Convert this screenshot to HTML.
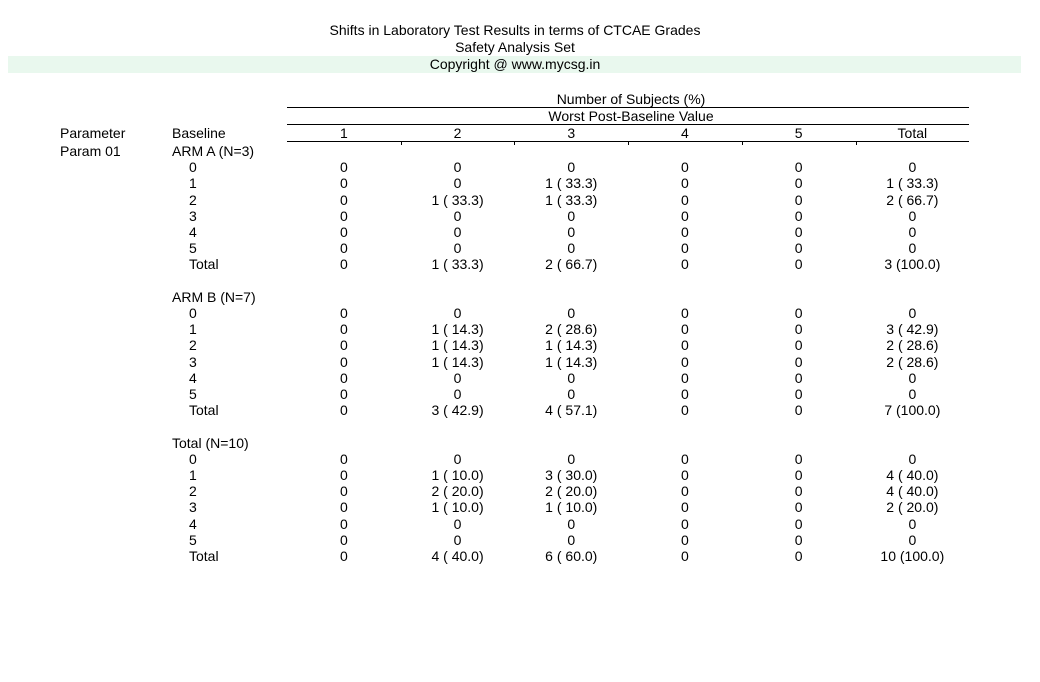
<!DOCTYPE html>
<html><head><meta charset="utf-8"><style>
body{margin:0;width:1040px;height:682px;background:#fff;position:relative;overflow:hidden;font-family:"Liberation Sans",Arial,sans-serif;font-size:14px;color:#000}
.t{position:absolute;white-space:pre;line-height:16px}
.c{transform:translateX(-50%)}
.hl{position:absolute;height:1px;background:#000}
.tk{position:absolute;width:1px;height:4px;background:#000}
</style></head><body>
<div class="t c" style="left:515px;top:22px">Shifts in Laboratory Test Results in terms of CTCAE Grades</div>
<div class="t c" style="left:515px;top:39px">Safety Analysis Set</div>
<div style="position:absolute;left:8px;top:56px;width:1013px;height:17px;background:#e9f8ee"></div>
<div class="t c" style="left:515px;top:56px">Copyright @ www.mycsg.in</div>
<div class="t c" style="left:631px;top:91px">Number of Subjects (%)</div>
<div class="hl" style="left:287px;top:107px;width:682px"></div>
<div class="t c" style="left:631px;top:108px">Worst Post-Baseline Value</div>
<div class="hl" style="left:287px;top:124px;width:682px"></div>
<div class="t" style="left:60px;top:125px">Parameter</div>
<div class="t" style="left:172px;top:125px">Baseline</div>
<div class="hl" style="left:287px;top:141px;width:682px"></div>
<div id="body"></div>
<script>
const colHeaders=["1","2","3","4","5","Total"];
const groups=["ARM A (N=3)","ARM B (N=7)","Total (N=10)"];
const rowLabels=["0","1","2","3","4","5","Total"];
const armA=[["0","0","0","0","0","0"],["0","0","1 ( 33.3)","0","0","1 ( 33.3)"],["0","1 ( 33.3)","1 ( 33.3)","0","0","2 ( 66.7)"],["0","0","0","0","0","0"],["0","0","0","0","0","0"],["0","0","0","0","0","0"],["0","1 ( 33.3)","2 ( 66.7)","0","0","3 (100.0)"]];
const armB=[["0","0","0","0","0","0"],["0","1 ( 14.3)","2 ( 28.6)","0","0","3 ( 42.9)"],["0","1 ( 14.3)","1 ( 14.3)","0","0","2 ( 28.6)"],["0","1 ( 14.3)","1 ( 14.3)","0","0","2 ( 28.6)"],["0","0","0","0","0","0"],["0","0","0","0","0","0"],["0","3 ( 42.9)","4 ( 57.1)","0","0","7 (100.0)"]];
const armT=[["0","0","0","0","0","0"],["0","1 ( 10.0)","3 ( 30.0)","0","0","4 ( 40.0)"],["0","2 ( 20.0)","2 ( 20.0)","0","0","4 ( 40.0)"],["0","1 ( 10.0)","1 ( 10.0)","0","0","2 ( 20.0)"],["0","0","0","0","0","0"],["0","0","0","0","0","0"],["0","4 ( 40.0)","6 ( 60.0)","0","0","10 (100.0)"]];
const data=[armA,armB,armT];
const X0=287,CW=113.7,Y0=143,RH=16.2;
const root=document.getElementById('body');
function txt(s,x,y,center){const d=document.createElement('div');d.className='t'+(center?' c':'');d.style.left=x+'px';d.style.top=y+'px';d.textContent=s;root.appendChild(d);return d;}
colHeaders.forEach((h,i)=>{const d=txt(h,X0+CW*(i+0.5),125,true);


if(i>0){const t=document.createElement('div');t.className='tk';t.style.left=(X0+CW*i)+'px';t.style.top='141px';


root.appendChild(t);}});
const p=txt("Param 01",60,Y0,false);


let r=0;
groups.forEach((g,gi)=>{
 const gd=txt(g,172,Y0+r*RH,false);
 
 
 r++;
 rowLabels.forEach((lb,li)=>{
  const y=Y0+r*RH;
  const l=txt(lb,189,y,false);
  
  
  data[gi][li].forEach((v,ci)=>{const c=txt(v,X0+CW*(ci+0.5),y,true);
   
   });
  r++;
 });
 r++;
});
</script>
</body></html>
